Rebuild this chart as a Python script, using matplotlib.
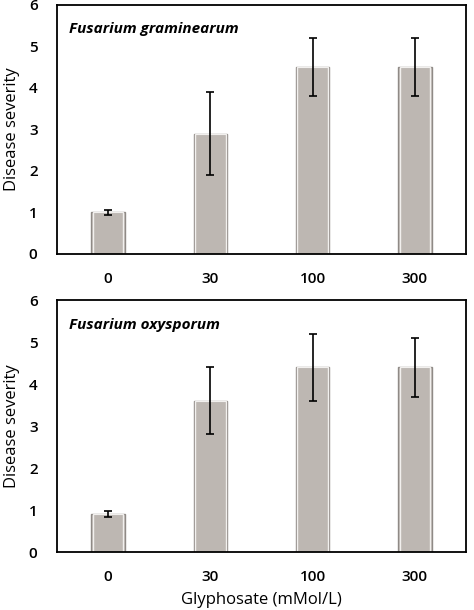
import matplotlib
matplotlib.use("Agg")
import matplotlib.pyplot as plt

categories = ["0", "30", "100", "300"]
gram_vals = [1.0, 2.9, 4.5, 4.5]
gram_err = [0.05, 1.0, 0.7, 0.7]
oxy_vals = [0.9, 3.6, 4.4, 4.4]
oxy_err = [0.07, 0.8, 0.8, 0.7]

plt.rcParams['font.family'] = ['Open Sans', 'DejaVu Sans']
fig = plt.figure(figsize=(4.74, 6.10), dpi=100)
W, H = 474, 610
panels = [(gram_vals, gram_err, "Fusarium graminearum", 5, 254),
          (oxy_vals, oxy_err, "Fusarium oxysporum", 300, 552)]
for vals, err, title, top, bot in panels:
    ax = fig.add_axes([57/W, 1-bot/H, (466-57)/W, (bot-top)/H])
    x = list(range(len(categories)))
    ax.bar(x, vals, width=0.33, color="#bdb7b2", edgecolor="#8f8a86", linewidth=1.0)
    ax.bar(x, vals, width=0.30, color="none", edgecolor="#f2f0ee", linewidth=1.0)
    ax.errorbar(x, vals, yerr=err, fmt="none", ecolor="black", elinewidth=1.2, capsize=3, capthick=1.2)
    ax.set_ylim(0, 6)
    ax.set_xlim(-0.5, 3.5)
    ax.set_xticks(x)
    ax.set_xticklabels(categories, fontsize=11, fontweight="semibold")
    ax.set_yticks(range(7))
    ax.set_yticklabels([str(v) for v in range(7)], fontsize=11, fontweight="semibold")
    ax.tick_params(axis='y', length=0, pad=14)
    ax.tick_params(axis='x', length=0, pad=13)
    ax.set_ylabel("Disease severity", fontsize=12, labelpad=6)
    ax.text(0.03, 0.93, title, transform=ax.transAxes, fontsize=11, fontstyle="italic", fontweight="bold", va="top")
    for s in ax.spines.values():
        s.set_linewidth(1.3)
    if bot == 552:
        ax.set_xlabel("Glyphosate (mMol/L)", fontsize=12, labelpad=6)
fig.savefig("out.png", dpi=100)
